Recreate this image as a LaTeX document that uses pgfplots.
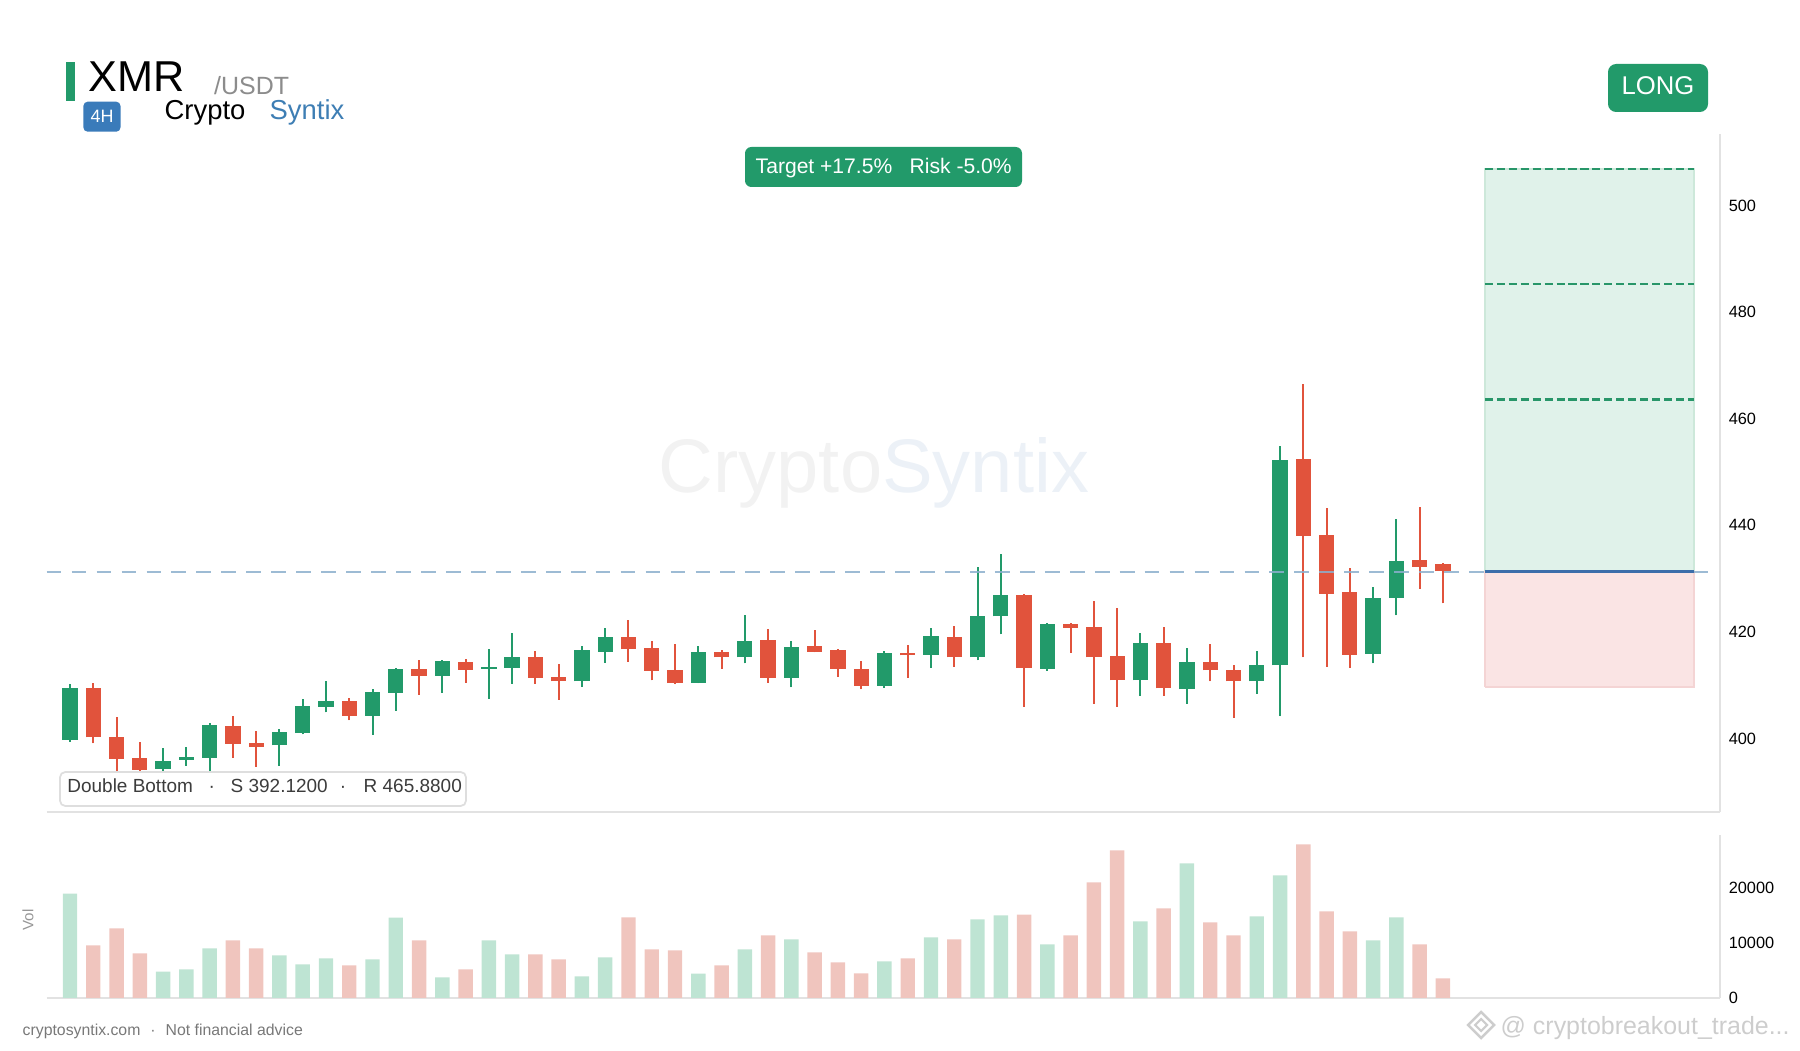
\documentclass[border=0pt]{standalone}
\usepackage{fontspec}
\setmainfont{Liberation Sans}
\usepackage{pgfplots}
\usepackage{pgfplotstable}
\pgfplotsset{compat=1.18}

\definecolor{cgreen}{RGB}{34,154,106}
\definecolor{cred}{RGB}{225,83,60}
\definecolor{vgreen}{RGB}{190,228,211}
\definecolor{vred}{RGB}{240,197,190}
\definecolor{axisgray}{RGB}{226,226,226}
\definecolor{boxgray}{RGB}{222,222,222}
\definecolor{usdtgray}{RGB}{140,140,140}
\definecolor{syntixblue}{RGB}{62,126,180}
\definecolor{badgeblue}{RGB}{58,123,186}
\definecolor{tpgreen}{RGB}{40,150,105}
\definecolor{tgtfill}{RGB}{224,242,234}
\definecolor{tgtedge}{RGB}{205,232,218}
\definecolor{slfill}{RGB}{250,228,228}
\definecolor{sledge}{RGB}{244,212,212}
\definecolor{entryblue}{RGB}{60,110,170}
\definecolor{dashblue}{RGB}{140,175,205}
\definecolor{wmgray}{RGB}{242,242,242}
\definecolor{wmblue}{RGB}{236,241,247}
\definecolor{labgray}{RGB}{60,60,60}
\definecolor{footgray}{RGB}{120,120,120}
\definecolor{volgray}{RGB}{150,150,150}
\definecolor{marklight}{RGB}{205,205,205}

\pgfplotstableread{
x o h l c v
0 399.7 410.2 399.4 409.4 18970
4 394.3 398.2 393.8 395.8 4790
5 396.0 398.4 394.9 396.5 5210
6 396.4 402.9 394.0 402.5 9030
9 398.7 401.7 394.9 401.2 7760
10 401.0 407.4 400.8 406.1 6120
11 406.0 410.8 404.9 407.0 7210
13 404.3 409.2 400.7 408.7 7030
14 408.6 413.2 405.2 413.0 14600
16 411.8 414.7 408.6 414.5 3760
18 413.1 416.8 407.5 413.5 10480
19 413.3 419.7 410.3 415.3 7940
22 410.7 417.4 409.7 416.6 3940
23 416.3 420.7 414.2 419.1 7390
27 410.5 417.3 410.4 416.2 4420
29 415.2 423.2 414.1 418.2 8850
31 411.4 418.2 409.6 417.1 10670
35 409.9 416.4 409.5 416.0 6670
37 415.7 420.7 413.3 419.2 11030
39 415.2 432.1 414.7 422.9 14300
40 422.9 434.6 419.6 426.9 15030
42 413.1 421.6 412.7 421.5 9760
46 410.9 419.7 408.0 418.0 13940
48 409.2 416.9 406.5 414.3 24480
51 410.7 416.4 408.4 413.7 14850
52 413.7 454.9 404.2 452.2 22300
56 415.9 428.4 414.1 426.3 10480
57 426.4 441.2 423.1 433.3 14670
}\greendata

\pgfplotstableread{
x o h l c v
1 409.5 410.4 399.1 400.2 9580
2 400.3 404.0 394.0 396.2 12670
3 396.4 399.4 393.5 394.1 8120
7 402.4 404.2 396.4 399.0 10480
8 399.2 401.4 394.7 398.5 9030
12 407.0 407.6 403.4 404.3 5940
15 413.0 414.7 408.2 411.8 10480
17 414.4 415.0 410.5 412.9 5210
20 415.3 416.4 410.3 411.4 7940
21 411.6 413.9 407.3 410.7 7030
24 419.1 422.2 414.4 416.7 14670
25 417.0 418.3 410.9 412.7 8850
26 412.8 417.7 410.2 410.4 8670
28 416.2 416.6 413.1 415.2 5940
30 418.4 420.6 410.5 411.4 11390
32 417.3 420.4 416.2 416.3 8300
33 416.6 416.7 411.6 413.1 6480
34 413.1 414.5 409.2 409.9 4480
36 416.0 417.5 411.4 415.6 7210
38 419.0 421.1 413.5 415.2 10670
41 426.9 427.2 406.0 413.2 15150
43 421.5 421.6 416.1 420.8 11390
44 420.9 425.8 406.5 415.2 21030
45 415.4 424.4 406.0 410.9 26850
47 418.0 420.9 408.0 409.4 16300
49 414.3 417.7 410.7 412.8 13760
50 412.8 413.7 403.9 410.7 11390
53 452.4 466.5 415.2 438.0 27940
54 438.2 443.3 413.5 427.2 15760
55 427.5 431.9 413.3 415.7 12120
58 433.4 443.5 428.1 432.2 9760
59 432.7 433.0 425.4 431.4 3580
}\reddata

\pgfplotsset{
  panel/.style={
    scale only axis,
    anchor=south west,
    width=16.731cm,
    xmin=-1, xmax=70.9,
    axis x line=bottom,
    axis y line=right,
    axis line style={-, draw=axisgray, line width=0.55pt},
    xtick=\empty,
    major tick length=0pt,
    scaled y ticks=false,
    tick label style={font=\fontsize{4.65}{5}\selectfont, text=black},
    yticklabel style={xshift=-1.0pt},
    /pgf/number format/assume math mode=true,
    /pgf/number format/1000 sep={},
    clip=true,
  },
  wick/.style={only marks, mark=*, mark size=0pt, mark options={draw=none, fill=none}, forget plot,
    error bars/.cd, y dir=plus, y explicit, error mark=none,
    error bar style={line width=0.57pt, draw=#1, solid}},
  body/.style={only marks, mark=*, mark size=0pt, mark options={draw=none, fill=none}, forget plot,
    error bars/.cd, y dir=plus, y explicit, error mark=none,
    error bar style={line width=4.35pt, draw=#1, solid}},
}

\begin{document}
\begin{tikzpicture}
\path[use as bounding box] (0,0) rectangle (18cm,10.5cm);

% watermark behind the chart
\begin{scope}[shift={(0,10.5cm)}, x=0.1mm, y=-0.1mm]
  \node[anchor=base west, inner sep=0, font=\fontsize{21.6}{24}\selectfont] at (658,492)
    {\textcolor{wmgray}{Crypto}\textcolor{wmblue}{Syntix}};
\end{scope}

% price panel
\begin{axis}[panel, at={(0.4673cm,2.377cm)}, height=6.778cm,
  ymin=386.16, ymax=513.3, ytick={400,420,440,460,480,500}]
  % target / stop zones
  \addplot[fill=tgtfill, draw=tgtedge, line width=0.5pt] coordinates
    {(60.8,431.3) (69.8,431.3) (69.8,506.8) (60.8,506.8) (60.8,431.3)};
  \addplot[fill=slfill, draw=sledge, line width=0.5pt] coordinates
    {(60.8,409.7) (69.8,409.7) (69.8,431.3) (60.8,431.3) (60.8,409.7)};
  \addplot[tpgreen, line width=0.6pt, dash pattern=on 2.3pt off 1.1pt] coordinates {(60.8,506.8) (69.8,506.8)};
  \addplot[tpgreen, line width=0.6pt, dash pattern=on 2.3pt off 1.1pt] coordinates {(60.8,485.2) (69.8,485.2)};
  \addplot[tpgreen, line width=0.6pt, dash pattern=on 2.3pt off 1.1pt] coordinates {(60.8,463.6) (69.8,463.6)};
  % candles
  \addplot[wick=cgreen] table[x=x, y=l, y error expr=\thisrow{h}-\thisrow{l}] {\greendata};
  \addplot[body=cgreen] table[x=x, y=o, y error expr=\thisrow{c}-\thisrow{o}] {\greendata};
  \addplot[wick=cred] table[x=x, y=l, y error expr=\thisrow{h}-\thisrow{l}] {\reddata};
  \addplot[body=cred] table[x=x, y=c, y error expr=\thisrow{o}-\thisrow{c}] {\reddata};
  % entry lines
  \addplot[dashblue, opacity=0.85, line width=0.6pt, dash pattern=on 4.2pt off 2.9pt] coordinates {(-1,431.3) (70.5,431.3)};
  \addplot[entryblue, line width=1pt] coordinates {(60.8,431.3) (69.8,431.3)};
\end{axis}

% volume panel
\begin{axis}[panel, at={(0.4673cm,0.52cm)}, height=1.63cm,
  ymin=0, ymax=29640, ytick={0,10000,20000}]
  \addplot[ybar, bar width=0.62, bar shift=0pt, fill=vgreen, draw=none] table[x=x, y=v] {\greendata};
  \addplot[ybar, bar width=0.62, bar shift=0pt, fill=vred, draw=none] table[x=x, y=v] {\reddata};
\end{axis}

% annotations (pixel coordinates of an 1800x1050 canvas)
\begin{scope}[shift={(0,10.5cm)}, x=0.1mm, y=-0.1mm]
  % header
  \fill[cgreen] (66,62) rectangle (74.5,101);
  \node[anchor=base west, inner sep=0, font=\fontsize{12.3}{14}\selectfont] at (88,91.7) {XMR};
  \node[anchor=base west, inner sep=0, text=usdtgray, font=\fontsize{7.1}{8}\selectfont] at (213.5,94.3) {/USDT};
  \fill[badgeblue, rounded corners=1.2pt] (83.4,101.7) rectangle (120.5,131.7);
  \node[inner sep=0, text=white, font=\fontsize{5.1}{6}\selectfont] at (102,116.7) {4H};
  \node[anchor=base west, inner sep=0, font=\fontsize{7.8}{9}\selectfont] at (164,119.3) {Crypto};
  \node[anchor=base west, inner sep=0, text=syntixblue, font=\fontsize{7.8}{9}\selectfont] at (269,119.3) {Syntix};
  % LONG badge
  \fill[cgreen, rounded corners=2.3pt] (1608,64) rectangle (1708,112);
  \node[anchor=base, inner sep=0, text=white, font=\fontsize{7.3}{8}\selectfont] at (1658,95) {LONG};
  % target badge
  \fill[cgreen, rounded corners=1.8pt] (745,147) rectangle (1022,187);
  \node[anchor=base west, inner sep=0, text=white, font=\fontsize{6.0}{7}\selectfont] at (755,173.3) {Target +17.5\%};
  \node[anchor=base west, inner sep=0, text=white, font=\fontsize{6.0}{7}\selectfont] at (909,173.3) {Risk -5.0\%};
  % pattern label
  \draw[draw=boxgray, fill=white, line width=0.5pt, rounded corners=1.5pt] (60,772) rectangle (466,806);
  \begin{scope}[every node/.style={inner sep=0, text=labgray, font=\fontsize{5.4}{6}\selectfont}]
    \node[anchor=base west] at (66.7,792.3) {Double Bottom};
    \node[anchor=base] at (211.7,792.3) {·};
    \node[anchor=base west] at (230,792.3) {S 392.1200};
    \node[anchor=base] at (343,792.3) {·};
    \node[anchor=base west] at (363,792.3) {R 465.8800};
  \end{scope}
  % volume label
  \node[rotate=90, inner sep=0, text=volgray, font=\fontsize{4.3}{5}\selectfont] at (28,920) {Vol};
  % footer
  \node[anchor=base west, inner sep=0, text=footgray, font=\fontsize{4.5}{5}\selectfont] at (22,1035) {cryptosyntix.com};
  \node[anchor=base, inner sep=0, text=footgray, font=\fontsize{4.5}{5}\selectfont] at (153,1035) {·};
  \node[anchor=base west, inner sep=0, text=footgray, font=\fontsize{4.5}{5}\selectfont] at (165,1035) {Not financial advice};
  % corner watermark
  \draw[marklight, line width=0.7pt] (1481,1012) -- (1494,1025) -- (1481,1038) -- (1468,1025) -- cycle;
  \draw[marklight, line width=0.6pt] (1481,1019) -- (1487,1025) -- (1481,1031) -- (1475,1025) -- cycle;
  \node[anchor=base west, inner sep=0, text=marklight, font=\fontsize{7.1}{8}\selectfont] at (1500,1034.5) {@ cryptobreakout\_trade...};
\end{scope}
\end{tikzpicture}
\end{document}
